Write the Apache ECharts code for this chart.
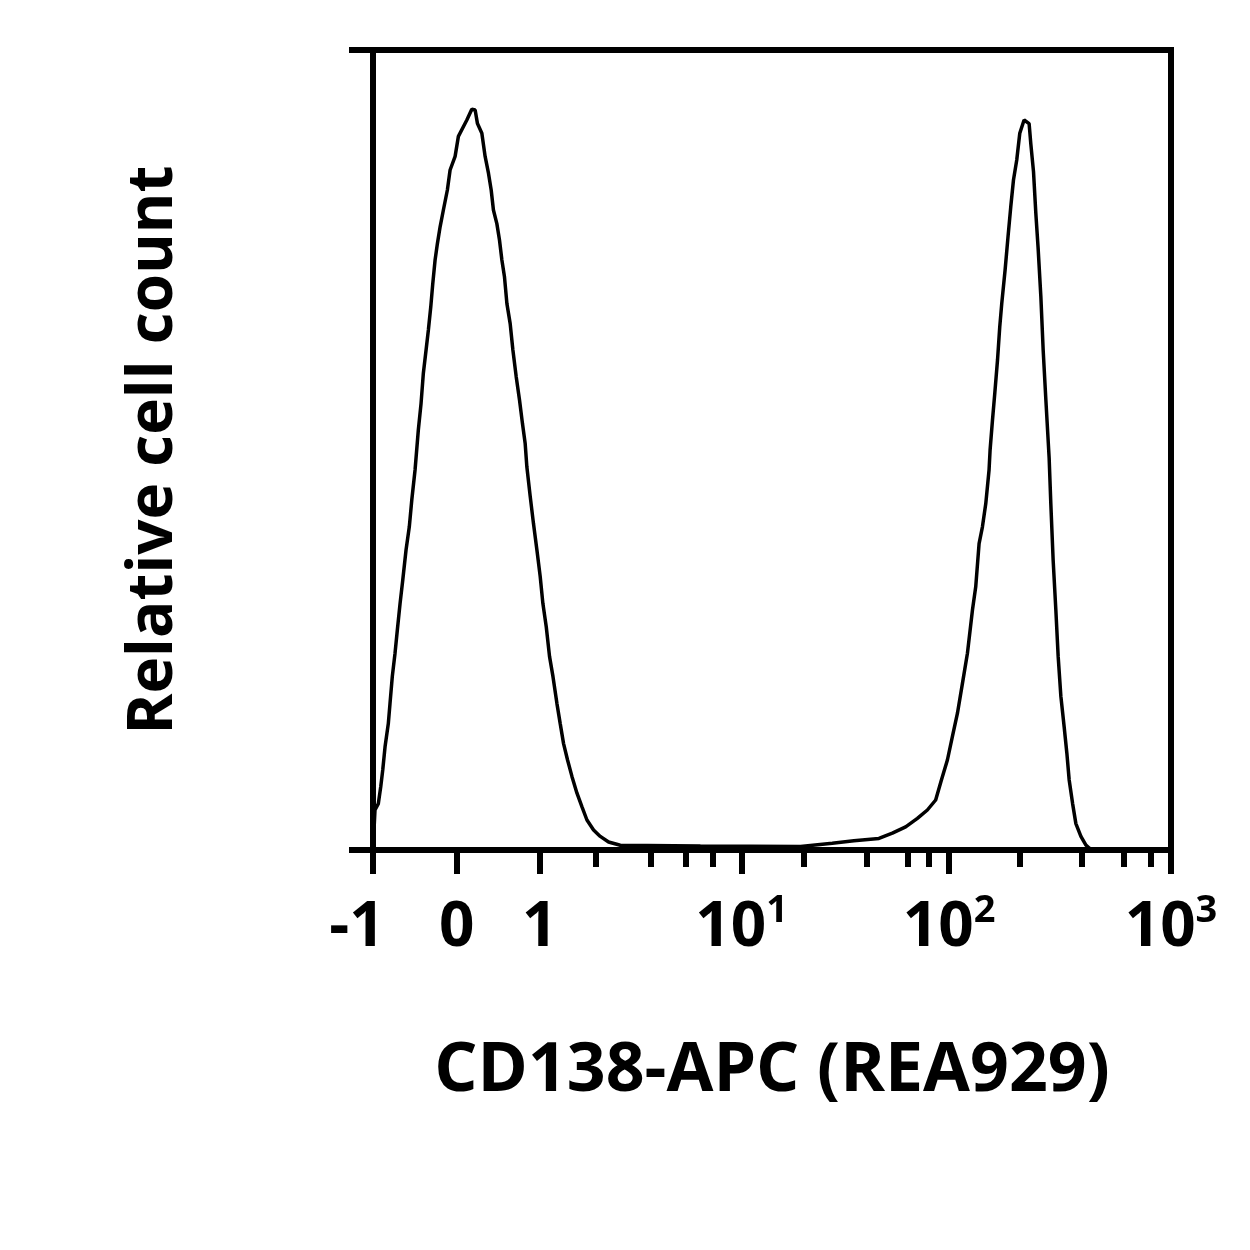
<!DOCTYPE html>
<html>
<head>
    <meta charset="UTF-8">
    <title>CD138-APC (REA929)</title>
    <script src="https://cdn.jsdelivr.net/npm/echarts@6/dist/echarts.min.js"></script>
    <style>
        html, body { margin: 0; padding: 0; background: #fff; }
        #hist { width: 1250px; height: 1250px; }
    </style>
</head>
<body>
	<div id="hist"></div>

	<script type="text/javascript">
		// x is the display channel (0..1000) of the biexponential axis, y is % of max count
		var channel = [0, 2.5, 6.7, 9.7, 12.2, 15.1, 19.2, 21.3, 24.2, 27.6, 30.5, 33.9, 37.3, 41.4, 45.5, 48.6,
			52.7, 56.8, 60.2, 63.1, 66.5, 69.4, 72.4, 74.9, 77.8, 80.7, 84.1, 88.2, 93.2, 96.6, 102.9, 107,
			117.6, 123.8, 128, 130.9, 136.4, 140.5, 144.7, 148.1, 150.9, 155.2, 158.5, 161.5, 164.7, 167.8,
			171.9, 175.3, 179.4, 183.6, 187.3, 190.7, 192.8, 197, 201.1, 205.4, 209.5, 212.9, 217.1, 221.2,
			225.5, 230.5, 234.6, 238.8, 243.8, 249.3, 255.6, 261.9, 268.1, 276.4, 284.8, 295.2, 309.9,
			410.3, 535.8, 575.5, 602.6, 634, 650.8, 667.5, 682.2, 694.7, 705.1, 712.3, 719.8, 726.1, 732.4,
			738.6, 744.9, 751.2, 755.3, 759.5, 763.7, 767.9, 772, 773.3, 776.3, 779.2, 782.6, 785.4, 787.9,
			792.1, 795.8, 799.2, 802.6, 806.7, 810.5, 815.9, 822.2, 824.3, 827.7, 830.6, 833.5, 836.9, 839.8,
			843.2, 847.3, 849.4, 852.3, 855.7, 858.6, 862, 866.1, 869.5, 872.4, 876.7, 880.8, 887.1, 893.4,
			897.5, 902];
		var count = [0, 5.0, 5.8, 7.9, 10.0, 12.9, 15.8, 18.3, 21.7, 24.6, 27.5, 30.8, 33.75, 37.5, 40.4, 43.75,
			47.5, 52.5, 55.8, 59.6, 62.5, 65, 67.9, 70.8, 73.75, 75.8, 77.9, 80, 82.5, 85, 86.7, 89.2,
			91.25, 92.6, 92.5, 90.8, 89.6, 86.7, 84.6, 82.5, 80, 78.3, 76.25, 73.75, 71.7, 68.3,
			65.8, 62.5, 59.2, 56.25, 53.3, 50.8, 47.9, 44.2, 40.8, 37.5, 34.2, 30.8, 27.9, 24.2,
			21.7, 18.3, 15.8, 13.3, 11.25, 9.2, 7.1, 5.4, 3.75, 2.5, 1.7, 1.0, 0.6,
			0.5, 0.45, 0.85, 1.15, 1.45, 2.1, 2.9, 3.95, 5.0, 6.25, 8.75, 11.25, 14.2, 17.1,
			20.8, 24.6, 30, 32.9, 38.3, 40.4, 43.3, 47.5, 50, 53.75, 57.1, 61.25, 65.4, 68.3,
			72.5, 76.7, 80.4, 83.75, 86.25, 89.6, 91.25, 90.8, 88.3, 84.8, 79.6, 75.2, 69.2, 62.5,
			56.25, 49, 43.3, 36.25, 30, 24.2, 19.2, 15.4, 12.1, 8.75, 5.8, 3.3, 1.7, 0.6,
			0.25, 0];

		// axis ticks (channel positions) and labels
		var majorTicks = [0, 105, 209, 462, 722, 1000];
		var majorLabels = ['-1', '0', '1', '10^1', '10^2', '10^3'];
		var minorTicks = [279, 348, 392, 426, 540, 619, 670, 697, 810, 888, 941, 975];

		var points = [];
		for (var i = 0; i < channel.length; i++) {
			points.push([channel[i], count[i]]);
		}

		var fontName = '"Open Sans", "DejaVu Sans", sans-serif';

		function tickLabel(value) {
			var idx = majorTicks.indexOf(value);
			if (idx < 0) return '';
			var txt = majorLabels[idx];
			if (txt.indexOf('^') > 0) {
				var p = txt.split('^');
				return '{base|' + p[0] + '}{sup|' + p[1] + '}';
			}
			if (txt == '-1') return '{neg|' + txt + '}';
			return '{base|' + txt + '}';
		}

		var myChart = echarts.init(document.getElementById('hist'));
		var option = {
			backgroundColor: '#fff',
			animation: false,
			grid: {
				left: 373,
				right: 79,
				top: 50,
				bottom: 400,
				show: true,
				borderColor: '#000',
				borderWidth: 6
			},
			xAxis: [{
				type: 'value',
				min: 0,
				max: 1000,
				position: 'bottom',
				name: 'CD138-APC (REA929)',
				nameLocation: 'middle',
				nameGap: 188,
				nameTextStyle: { fontFamily: fontName, fontWeight: 'bold', fontSize: 68, color: '#000' },
				splitLine: { show: false },
				axisLine: { show: true, lineStyle: { color: '#000', width: 6 } },
				axisTick: { show: true, customValues: majorTicks, length: 24, lineStyle: { color: '#000', width: 6 } },
				axisLabel: {
					show: true,
					customValues: majorTicks,
					margin: 42,
					formatter: tickLabel,
					rich: {
						base: { fontFamily: fontName, fontWeight: 'bold', fontSize: 62, lineHeight: 72, color: '#000' },
						neg: { fontFamily: fontName, fontWeight: 'bold', fontSize: 62, lineHeight: 72, color: '#000', padding: [0, 32, 0, 0] },
						sup: { fontFamily: fontName, fontWeight: 'bold', fontSize: 38, lineHeight: 36, verticalAlign: 'top', color: '#000' }
					}
				}
			}, {
				type: 'value',
				min: 0,
				max: 1000,
				position: 'bottom',
				splitLine: { show: false },
				axisLine: { show: false },
				axisTick: { show: true, customValues: minorTicks, length: 17, lineStyle: { color: '#000', width: 6 } },
				axisLabel: { show: false }
			}],
			yAxis: {
				type: 'value',
				min: 0,
				max: 100,
				interval: 100,
				name: 'Relative cell count',
				nameLocation: 'middle',
				nameRotate: 90,
				nameGap: 188,
				nameTextStyle: { fontFamily: fontName, fontWeight: 'bold', fontSize: 62, color: '#000' },
				splitLine: { show: false },
				axisLine: { show: true, lineStyle: { color: '#000', width: 6 } },
				axisTick: { show: true, length: 24, lineStyle: { color: '#000', width: 6 } },
				axisLabel: { show: false }
			},
			series: [{
				name: 'CD138-APC',
				type: 'line',
				xAxisIndex: 0,
				showSymbol: false,
				symbol: 'none',
				lineStyle: { color: '#000', width: 3.5 },
				data: points
			}]
		};
		myChart.setOption(option);
	</script>
</body>
</html>
